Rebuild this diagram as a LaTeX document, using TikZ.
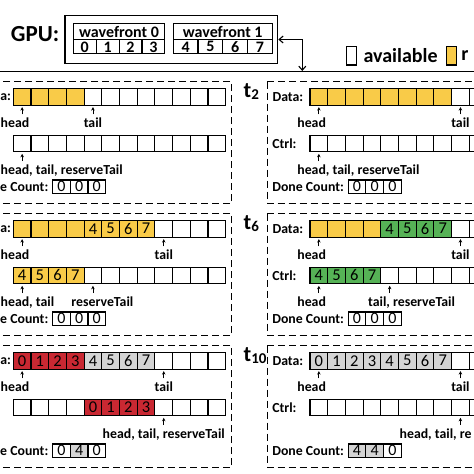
\documentclass[tikz,border=0pt]{standalone}
\usepackage{fontspec}
\setmainfont{Carlito}
\usetikzlibrary{positioning, arrows.meta}

\definecolor{qyel}{RGB}{249,203,72}
\definecolor{qgrn}{RGB}{86,178,86}
\definecolor{qred}{RGB}{201,40,50}
\definecolor{qgry}{RGB}{212,212,212}

\tikzset{
  cell/.style={draw, line width=1.1pt, minimum width=17.7pt, minimum height=16.7pt, inner sep=0pt, font=\fontsize{16.5}{16.5}\selectfont},
  cnt/.style={cell, minimum height=13.5pt, font=\fontsize{16}{16}\selectfont},
  wfhead/.style={draw, line width=1.1pt, minimum height=16pt, inner sep=0pt, font=\fontsize{16}{16}\selectfont\bfseries},
  wfcell/.style={draw, line width=1.1pt, minimum height=14pt, inner sep=0pt, font=\fontsize{16}{16}\selectfont\bfseries},
  lbl/.style={inner sep=0pt, font=\fontsize{13.8}{13.8}\selectfont\bfseries},
  biglbl/.style={inner sep=0pt, font=\fontsize{20}{20}\selectfont\bfseries},
  tlbl/.style={inner sep=0pt, font=\fontsize{22}{22}\selectfont\bfseries},
  panel/.style={line width=1.5pt, dash pattern=on 7pt off 4pt},
  ptr/.style={-{Stealth[length=3.5pt, width=3.5pt]}, line width=0.9pt, shorten <=3pt, shorten >=1.5pt},
  link/.style={{Straight Barb[length=4pt, width=7pt]}-{Straight Barb[length=4pt, width=7pt]}, line width=1.1pt, shorten >=0.7pt},
}

% #1 style, #2 name, #3 x of first centre, #4 y, #5 fill/text list
\newcommand{\cellrow}[5][cell]{%
  \foreach \c/\t [count=\i from 0] in {#5} {
    \node[#1, fill=\c] (#2-\i) at ({#3+\i*17.7}, #4) {\t};
  }
}
% #1 name, #2 target cell, #3 anchor, #4 xshift, #5 text
\newcommand{\pointer}[5]{%
  \node[lbl, anchor=#3] (#1) at ([xshift=#4, yshift=-21.7pt]#2.south) {#5};
  \draw[ptr] (#1.north -| #2.south) -- (#2.south);
}
\newcommand{\tsub}[1]{t\raisebox{-2.5pt}{\fontsize{15}{15}\selectfont #1}}

\begin{document}
\begin{tikzpicture}[x=1pt, y=-1pt]
\useasboundingbox (0,0) rectangle (474,474);
\clip (0,0) rectangle (474,474);
\fill[white] (0,0) rectangle (474,474);

% GPU with its two wavefronts
\node[tlbl, font=\fontsize{23}{23}\selectfont\bfseries] (gpulbl) at (35,34) {GPU:};
\node[draw, line width=1.3pt, minimum width=212.7pt, minimum height=47.6pt, inner sep=0pt] (gpu) at (171.35,39.5) {};
\foreach \w/\x/\cw/\bw in {0/72.7/22.9/91.6, 1/172.7/24.75/99} {
  \node[wfhead, minimum width=\bw pt, anchor=north west] (wf\w) at (\x,23.3) {wavefront \w};
  \foreach \j in {0,...,3} {
    \pgfmathtruncatemacro{\k}{4*\w+\j}
    \node[wfcell, minimum width=\cw pt, anchor=north west] (wf\w-\j) at ({\x+\j*\cw},39.3) {\k};
  }
}

% legend
\node[draw, line width=1.1pt, minimum width=10pt, minimum height=18.3pt, inner sep=0pt] (availbox) at (351.7,55.8) {};
\node[biglbl, anchor=west] (avail) at (363.3,55.8) {available};
\node[draw, line width=1.1pt, fill=qyel, minimum width=10pt, minimum height=18.3pt, inner sep=0pt] (resvbox) at (451.7,55.8) {};
\node[biglbl, anchor=west] (resv) at (461.2,55.8) {r};

% bus
\draw[line width=1.4pt] (-5,71.7) -- (480,71.7);
\coordinate (bus) at (302.3,71.7);
\draw[link] (gpu.east) -| (bus);

% ---- left, row 1 ----
\draw[panel] (-29.4,81.7) rectangle ++(261.1,121.6);
\cellrow{d1}{22.15}{96.7}{qyel/{},qyel/{},qyel/{},qyel/{},white/{},white/{},white/{},white/{},white/{},white/{},white/{},white/{}}
\cellrow{c1}{22.15}{143.4}{white/{},white/{},white/{},white/{},white/{},white/{},white/{},white/{},white/{},white/{},white/{},white/{}}
\cellrow[cnt]{n1}{61.4}{186.7}{white/0,white/0,white/0}
\node[lbl, anchor=east] (dl1) at ([xshift=-1.5pt]d1-0.west) {a:};
\node[lbl, anchor=east] (ncl1) at ([xshift=-3.5pt]n1-0.west) {e Count:};
\pointer{hd1}{d1-0}{base west}{-21.7pt}{head}
\pointer{tl1}{d1-4}{base}{0pt}{tail}
\pointer{hc1}{c1-0}{base west}{-21.7pt}{head, tail, reserveTail}

% ---- right, row 1 ----
\draw[panel] (267.3,81.7) rectangle ++(261.1,121.6);
\node[tlbl, anchor=base west] (t2) at (243.5,97) {\tsub{2}};
\cellrow{d2}{318.85}{96.7}{qyel/{},qyel/{},qyel/{},qyel/{},qyel/{},qyel/{},qyel/{},qyel/{},white/{},white/{}}
\cellrow{c2}{318.85}{143.4}{white/{},white/{},white/{},white/{},white/{},white/{},white/{},white/{},white/{},white/{}}
\cellrow[cnt]{n2}{357}{186.7}{white/0,white/0,white/0}
\node[lbl, anchor=east] (dl2) at ([xshift=-6pt]d2-0.west) {Data:};
\node[lbl, anchor=east] (ncl2) at ([xshift=-3.5pt]n2-0.west) {Done Count:};
\node[lbl, anchor=west] (cl2) at (ncl2.west |- c2-0) {Ctrl:};
\pointer{hd2}{d2-0}{base west}{-21.7pt}{head}
\pointer{tl2}{d2-8}{base}{0pt}{tail}
\pointer{hc2}{c2-0}{base west}{-21.7pt}{head, tail, reserveTail}

% ---- left, row 2 ----
\draw[panel] (-29.4,213.7) rectangle ++(261.1,121.6);
\cellrow{d3}{22.15}{228.7}{qyel/{},qyel/{},qyel/{},qyel/{},qyel/4,qyel/5,qyel/6,qyel/7,white/{},white/{},white/{},white/{}}
\cellrow{c3}{22.15}{275.4}{qyel/4,qyel/5,qyel/6,qyel/7,white/{},white/{},white/{},white/{},white/{},white/{},white/{},white/{}}
\cellrow[cnt]{n3}{61.4}{318.7}{white/0,white/0,white/0}
\node[lbl, anchor=east] (dl3) at ([xshift=-1.5pt]d3-0.west) {a:};
\node[lbl, anchor=east] (ncl3) at ([xshift=-3.5pt]n3-0.west) {e Count:};
\pointer{hd3}{d3-0}{base west}{-21.7pt}{head}
\pointer{tl3}{d3-8}{base}{0pt}{tail}
\pointer{hc3}{c3-0}{base west}{-21.7pt}{head, tail}
\pointer{rc3}{c3-4}{base west}{-21.7pt}{reserveTail}

% ---- right, row 2 ----
\draw[panel] (267.3,213.7) rectangle ++(261.1,121.6);
\node[tlbl, anchor=base west] (t6) at (243.5,229) {\tsub{6}};
\cellrow{d4}{318.85}{228.7}{qyel/{},qyel/{},qyel/{},qyel/{},qgrn/4,qgrn/5,qgrn/6,qgrn/7,white/{},white/{}}
\cellrow{c4}{318.85}{275.4}{qgrn/4,qgrn/5,qgrn/6,qgrn/7,white/{},white/{},white/{},white/{},white/{},white/{}}
\cellrow[cnt]{n4}{357}{318.7}{white/0,white/0,white/0}
\node[lbl, anchor=east] (dl4) at ([xshift=-6pt]d4-0.west) {Data:};
\node[lbl, anchor=east] (ncl4) at ([xshift=-3.5pt]n4-0.west) {Done Count:};
\node[lbl, anchor=west] (cl4) at (ncl4.west |- c4-0) {Ctrl:};
\pointer{hd4}{d4-0}{base west}{-21.7pt}{head}
\pointer{tl4}{d4-8}{base}{0pt}{tail}
\pointer{hc4}{c4-0}{base west}{-21.7pt}{head}
\pointer{rc4}{c4-4}{base west}{-21.7pt}{tail, reserveTail}

% ---- left, row 3 ----
\draw[panel] (-29.4,345.7) rectangle ++(261.1,121.6);
\cellrow{d5}{22.15}{360.7}{qred/0,qred/1,qred/2,qred/3,qgry/4,qgry/5,qgry/6,qgry/7,white/{},white/{},white/{},white/{}}
\cellrow{c5}{22.15}{407.4}{white/{},white/{},white/{},white/{},qred/0,qred/1,qred/2,qred/3,white/{},white/{},white/{},white/{}}
\cellrow[cnt]{n5}{61.4}{450.7}{white/0,qgry/4,white/0}
\node[lbl, anchor=east] (dl5) at ([xshift=-1.5pt]d5-0.west) {a:};
\node[lbl, anchor=east] (ncl5) at ([xshift=-3.5pt]n5-0.west) {e Count:};
\pointer{hd5}{d5-0}{base west}{-21.7pt}{head}
\pointer{tl5}{d5-8}{base}{0pt}{tail}
\pointer{hc5}{c5-8}{base}{0pt}{head, tail, reserveTail}

% ---- right, row 3 ----
\draw[panel] (267.3,345.7) rectangle ++(261.1,121.6);
\node[tlbl, anchor=base west] (t10) at (243.5,361) {\tsub{10}};
\cellrow{d6}{318.85}{360.7}{qgry/0,qgry/1,qgry/2,qgry/3,qgry/4,qgry/5,qgry/6,qgry/7,white/{},white/{}}
\cellrow{c6}{318.85}{407.4}{white/{},white/{},white/{},white/{},white/{},white/{},white/{},white/{},white/{},white/{}}
\cellrow[cnt]{n6}{357}{450.7}{qgry/4,qgry/4,white/0}
\node[lbl, anchor=east] (dl6) at ([xshift=-6pt]d6-0.west) {Data:};
\node[lbl, anchor=east] (ncl6) at ([xshift=-3.5pt]n6-0.west) {Done Count:};
\node[lbl, anchor=west] (cl6) at (ncl6.west |- c6-0) {Ctrl:};
\pointer{hd6}{d6-0}{base west}{-21.7pt}{head}
\pointer{tl6}{d6-8}{base}{0pt}{tail}
\pointer{hc6}{c6-8}{base west}{-61pt}{head, tail, re}
\end{tikzpicture}
\end{document}
